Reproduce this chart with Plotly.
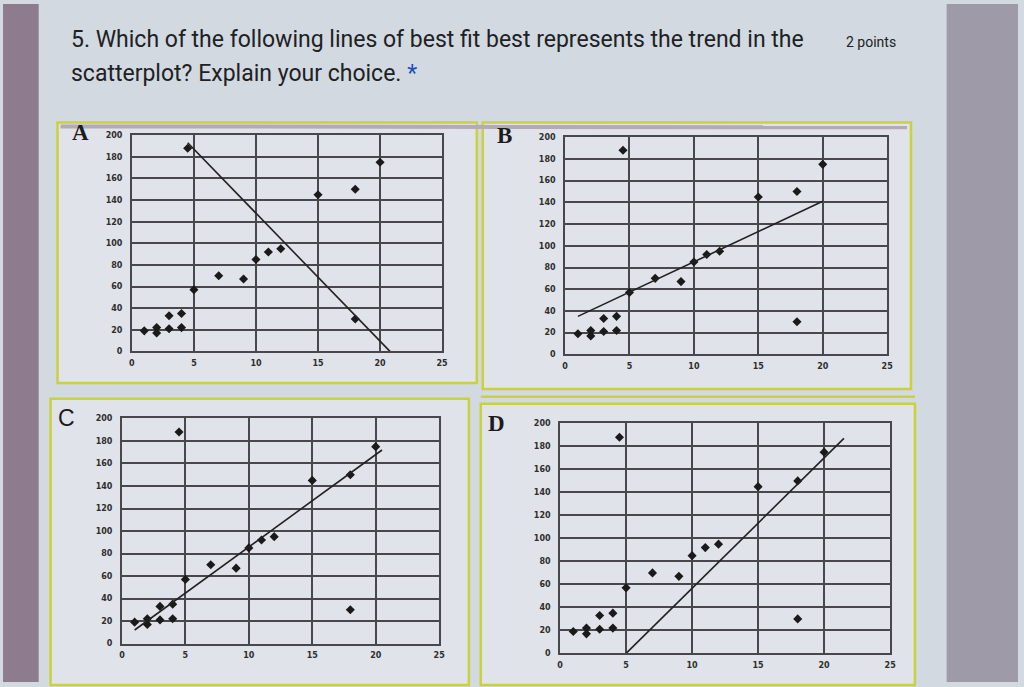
import plotly.graph_objects as go
from plotly.subplots import make_subplots

# scatter data (same points in every panel)
x_vals = [1, 2, 2, 3, 3, 4, 4, 4.5, 5, 7, 9, 10, 11, 12, 15, 18, 18, 20]
y_vals = [19, 22, 17, 33, 21, 35, 22, 188, 57, 70, 67, 85, 92, 95, 145, 150, 30, 175]

# candidate lines of best fit (end points)
panel_names = ['A', 'B', 'C', 'D']
line_x = {'A': [4.5, 20.8], 'B': [1, 20], 'C': [1, 20.5], 'D': [5, 21.5]}
line_y = {'A': [193, 0], 'B': [35, 141], 'C': [12, 172], 'D': [0, 187]}

x_ticks = [0, 5, 10, 15, 20, 25]
y_ticks = [0, 20, 40, 60, 80, 100, 120, 140, 160, 180, 200]

title_line1 = '5. Which of the following lines of best fit best represents the trend in the'
title_line2 = 'scatterplot? Explain your choice. '

W, H = 1024, 687

def px(x):
    return x / W

def py(y):
    return 1 - y / H

# plot areas in page pixels: left, right, top, bottom
plot_boxes = {'A': (130, 443, 133, 352),
              'B': (567, 892, 135, 355),
              'C': (120, 440, 420, 648),
              'D': (562, 895, 425, 658)}

fig = make_subplots(rows=2, cols=2)
grid_col = '#48484c'
tick_font = dict(size=8, color='#2e2e2e', family='DejaVu Sans', weight='bold')

for i, name in enumerate(panel_names):
    r, c = i // 2 + 1, i % 2 + 1
    fig.add_trace(go.Scatter(x=x_vals, y=y_vals, mode='markers',
                             marker=dict(symbol='diamond', size=7, color='#1a1a1a'),
                             showlegend=False), row=r, col=c)
    fig.add_trace(go.Scatter(x=line_x[name], y=line_y[name], mode='lines',
                             line=dict(color='#222222', width=1.6),
                             showlegend=False), row=r, col=c)
    l, rr, t, b = plot_boxes[name]
    fig.update_xaxes(domain=[px(l), px(rr)], range=[0, 25], tickvals=x_ticks,
                     showgrid=True, gridcolor=grid_col, gridwidth=1.8,
                     showline=True, mirror=True, linecolor=grid_col, linewidth=1.8,
                     zeroline=False, tickfont=tick_font, ticklabelstandoff=3,
                     fixedrange=True, row=r, col=c)
    fig.update_yaxes(domain=[py(b), py(t)], range=[0, 200], tickvals=y_ticks,
                     showgrid=True, gridcolor=grid_col, gridwidth=1.8,
                     showline=True, mirror=True, linecolor=grid_col, linewidth=1.8,
                     zeroline=False, tickfont=tick_font, ticklabelstandoff=6,
                     fixedrange=True, row=r, col=c)

shapes = []
# dark photo edges
shapes.append(dict(type='rect', xref='paper', yref='paper', x0=0, x1=px(36), y0=0, y1=1,
                   fillcolor='#8c7c8e', line=dict(width=0), layer='below'))
shapes.append(dict(type='rect', xref='paper', yref='paper', x0=px(952), x1=1, y0=0, y1=1,
                   fillcolor='#9f9aa8', line=dict(width=0), layer='below'))
# yellow panel frames
yellow = '#c9d23a'
frames = [(55, 478, 120, 384), (484, 916, 120, 390), (48, 470, 400, 690), (482, 920, 405, 690)]
for l, rr, t, b in frames:
    shapes.append(dict(type='rect', xref='paper', yref='paper', x0=px(l), x1=px(rr), y0=py(b), y1=py(t),
                       fillcolor='#e0e3e9', line=dict(color=yellow, width=2.5), layer='below'))
# grey strip over the top panels and second yellow line above D
shapes.append(dict(type='line', xref='paper', yref='paper', x0=px(58), x1=px(912), y0=py(124), y1=py(125),
                   line=dict(color='#b3aab4', width=4)))
shapes.append(dict(type='line', xref='paper', yref='paper', x0=px(482), x1=px(920), y0=py(398), y1=py(398),
                   line=dict(color=yellow, width=2.5)))

annotations = [
    dict(text=title_line1, x=px(67), y=py(36), xref='paper', yref='paper', xanchor='left', yanchor='middle',
         showarrow=False, font=dict(family='Roboto', size=23, color='#202124')),
    dict(text=title_line2 + "<span style='color:#1a4fc0'>*</span>", x=px(67), y=py(70), xref='paper', yref='paper',
         xanchor='left', yanchor='middle', showarrow=False, font=dict(family='Roboto', size=23, color='#202124')),
    dict(text='2 points', x=px(848), y=py(38), xref='paper', yref='paper', xanchor='left', yanchor='middle',
         showarrow=False, font=dict(family='Roboto', size=14, color='#202124')),
]
letter_pos = {'A': (78, 130), 'B': (506, 133), 'C': (64, 420), 'D': (498, 425)}
for name in panel_names:
    fam = 'Liberation Sans' if name == 'C' else 'Liberation Serif'
    wt = 'normal' if name == 'C' else 'bold'
    annotations.append(dict(text=name, x=px(letter_pos[name][0]), y=py(letter_pos[name][1]), xref='paper', yref='paper',
                            xanchor='center', yanchor='middle', showarrow=False,
                            font=dict(family=fam, size=23, color='#1c1c1c', weight=wt)))

fig.update_layout(width=W, height=H, margin=dict(l=0, r=0, t=0, b=0),
                  paper_bgcolor='#d3d9e0', plot_bgcolor='#e5e8ec',
                  shapes=shapes, annotations=annotations, showlegend=False)

# drop the page margin so the figure sits at the window corner
fig.write_html("out.html", config={'displayModeBar': False},
               post_script="document.body.style.margin='0';")
